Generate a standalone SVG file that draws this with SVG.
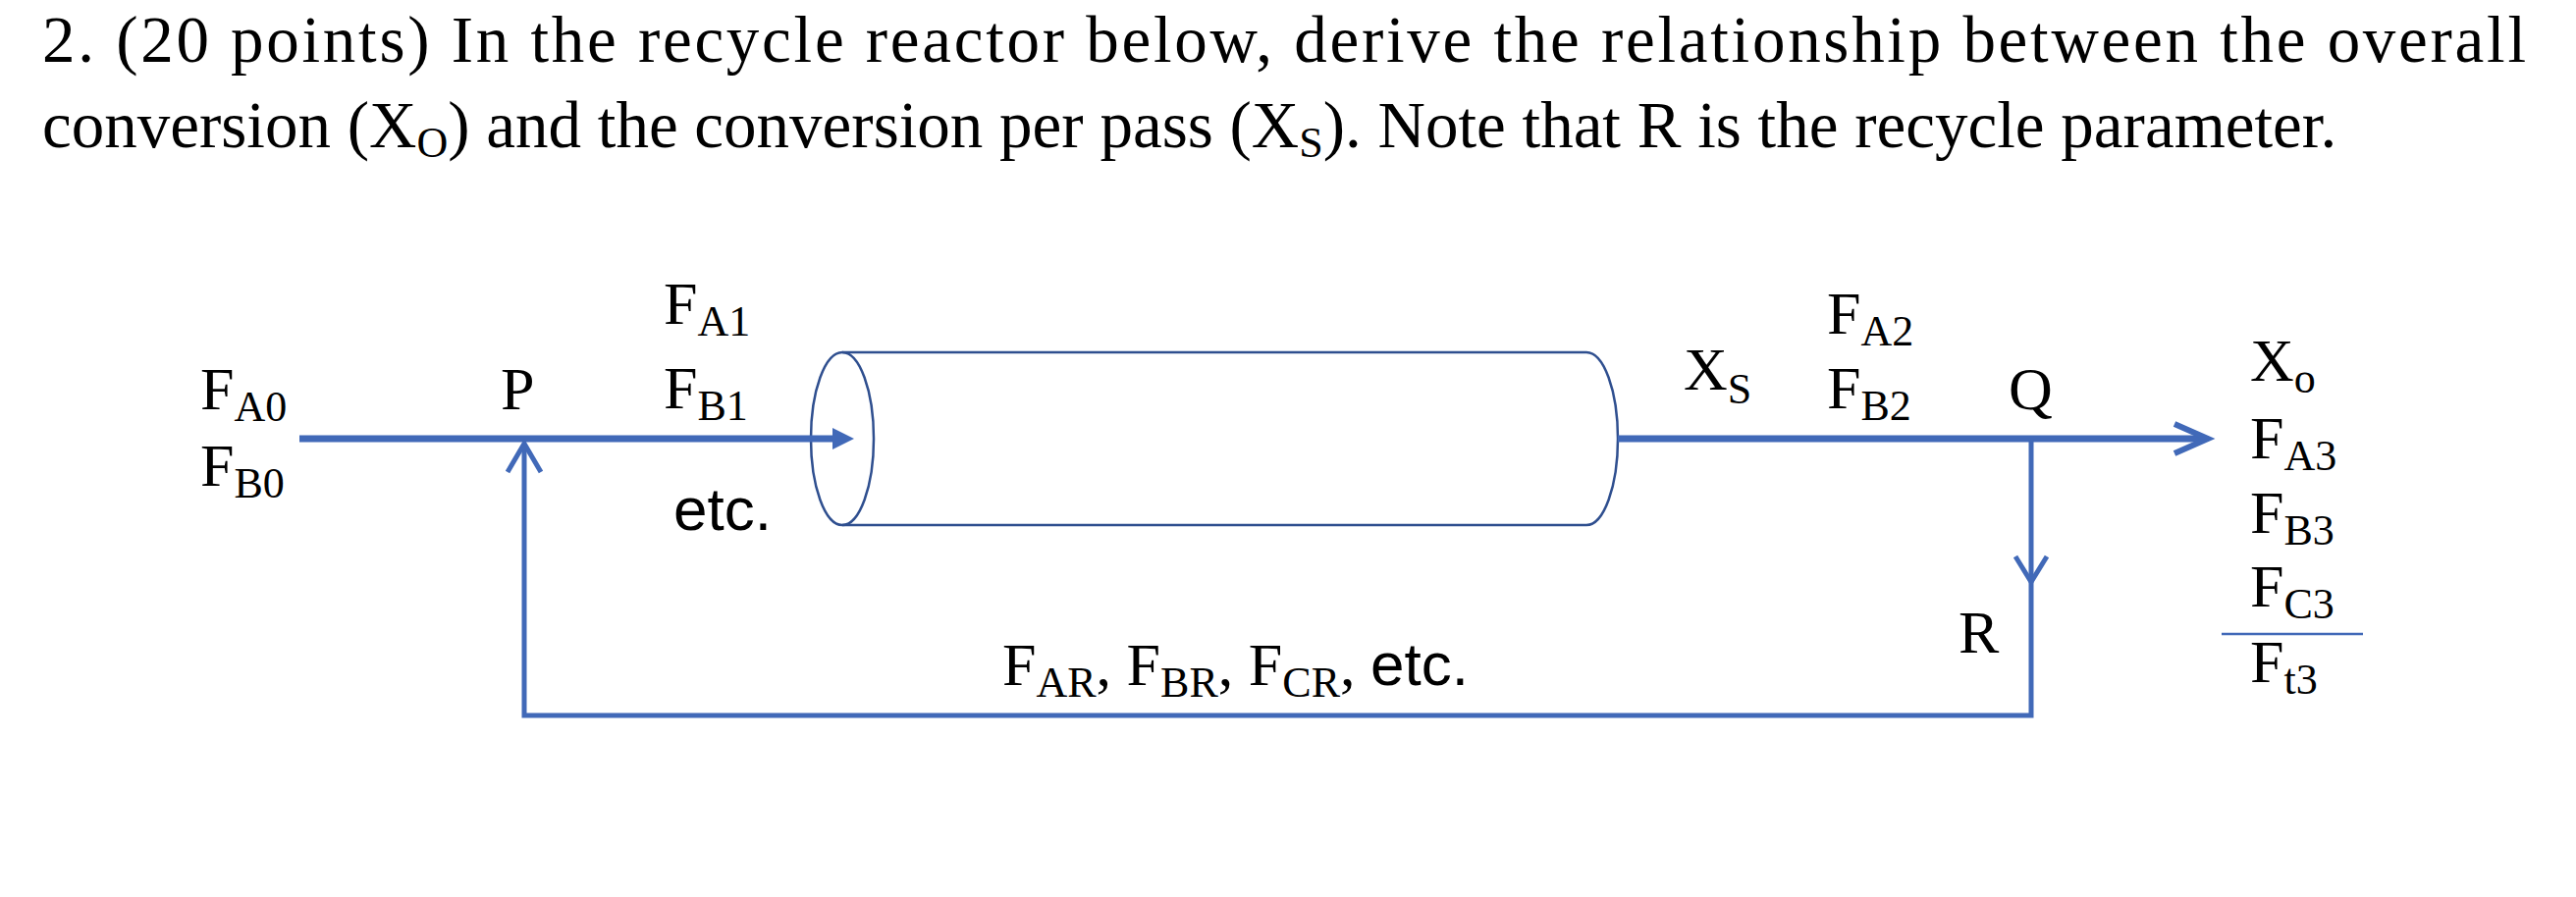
<svg xmlns="http://www.w3.org/2000/svg" width="2624" height="914" viewBox="0 0 2624 914">
<style>
text{font-family:"Liberation Serif","Times New Roman",serif;fill:#000}
.t{font-size:67px}
.l{font-size:62px}
.s{font-size:44px;font-family:"Liberation Serif","Times New Roman",serif}
.ln{stroke:#4169b8;fill:none;stroke-linecap:butt}
.cy{stroke:#2f4f8f;stroke-width:2.5;fill:none}
</style>
<rect width="2624" height="914" fill="#fff"/>
<g id="title">
<text class="t" x="43" y="63" textLength="2530" lengthAdjust="spacing">2. (20 points) In the recycle reactor below, derive the relationship between the overall</text>
<text class="t" x="43" y="150">conversion (X<tspan class="s" dy="10">O</tspan><tspan dy="-10">) and the conversion per pass (X</tspan><tspan class="s" dy="10">S</tspan><tspan dy="-10">). Note that R is the recycle parameter.</tspan></text>
</g>
<g id="reactor">
<ellipse class="cy" cx="858" cy="447" rx="32" ry="88"/>
<path class="cy" d="M858 359H1616A32 88 0 0 1 1616 535H858"/>
</g>
<g id="connectors">
<path class="ln" stroke-width="7" d="M305 447H850"/>
<path fill="#4169b8" d="M870 447L848 436V458Z"/>
<path class="ln" stroke-width="7" d="M1648 447H2246"/>
<path class="ln" stroke-width="6" d="M2215 432L2249 447L2215 462"/>
<path class="ln" stroke-width="5" d="M534 452V729H2069V447"/>
<path class="ln" stroke-width="5" d="M517 481L534 452L551 481"/>
<path class="ln" stroke-width="5" d="M2053 567L2069 593L2085 567"/>
<path class="ln" stroke-width="2.5" d="M2263 646H2407"/>
</g>
<g id="labels">
<text class="l" x="204" y="417">F<tspan class="s" dy="12">A0</tspan></text>
<text class="l" x="204" y="495">F<tspan class="s" dy="12">B0</tspan></text>
<text class="l" x="510" y="417">P</text>
<text class="l" x="676" y="330">F<tspan class="s" dy="12">A1</tspan></text>
<text class="l" x="676" y="416">F<tspan class="s" dy="12">B1</tspan></text>
<text class="l" x="686" y="540" style="font-family:'Liberation Sans',Arial,sans-serif">etc.</text>
<text class="l" x="1715" y="397">X<tspan class="s" dy="14">S</tspan></text>
<text class="l" x="1861" y="340">F<tspan class="s" dy="12">A2</tspan></text>
<text class="l" x="1861" y="416">F<tspan class="s" dy="12">B2</tspan></text>
<text class="l" x="2046" y="417">Q</text>
<text class="l" x="1995" y="665">R</text>
<text class="l" x="2292" y="388">X<tspan class="s" dy="12">o</tspan></text>
<text class="l" x="2292" y="467">F<tspan class="s" dy="12">A3</tspan></text>
<text class="l" x="2292" y="543">F<tspan class="s" dy="12">B3</tspan></text>
<text class="l" x="2292" y="618">F<tspan class="s" dy="12">C3</tspan></text>
<text class="l" x="2292" y="695">F<tspan class="s" dy="12">t3</tspan></text>
<text class="l" x="1021" y="698">F<tspan class="s" dy="12">AR</tspan><tspan dy="-12">, F</tspan><tspan class="s" dy="12">BR</tspan><tspan dy="-12">, F</tspan><tspan class="s" dy="12">CR</tspan><tspan dy="-12">, </tspan><tspan style="font-family:'Liberation Sans',Arial,sans-serif"> etc.</tspan></text>
</g>
</svg>
